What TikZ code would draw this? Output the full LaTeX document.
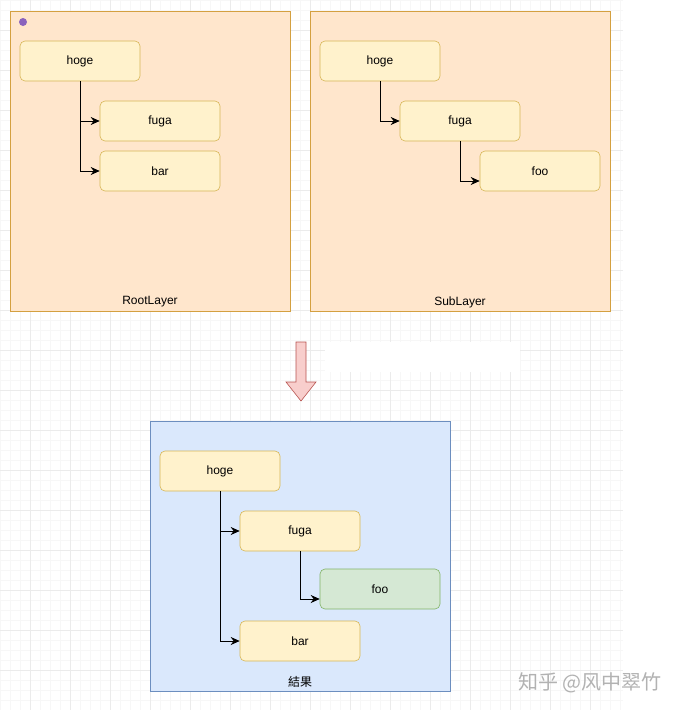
\documentclass[tikz,border=0pt]{standalone}
\usepackage{fontspec}
\setmainfont{Liberation Sans}
\newfontfamily\cjk{Noto Sans CJK SC}
\usetikzlibrary{arrows.meta,positioning}
\definecolor{layerfill}{HTML}{FFE6CC}
\definecolor{layerdraw}{HTML}{D4A040}
\definecolor{itemfill}{HTML}{FFF2CC}
\definecolor{itemdraw}{HTML}{D6B656}
\definecolor{greenfill}{HTML}{D5E8D4}
\definecolor{greendraw}{HTML}{82B366}
\definecolor{bluefill}{HTML}{DAE8FC}
\definecolor{bluedraw}{HTML}{6C8EBF}
\definecolor{redfill}{HTML}{F8CECC}
\definecolor{reddraw}{HTML}{B85450}
\definecolor{dotpurple}{HTML}{8A63BD}
\tikzset{%
	layerbox/.style = {draw=layerdraw, fill=layerfill, line width=0.8pt},
	resultbox/.style= {draw=bluedraw, fill=bluefill, line width=0.8pt},
	item/.style     = {draw=itemdraw, fill=itemfill, rectangle, rounded corners=5pt, minimum width=120pt, minimum height=40pt, text centered, line width=0.6pt},
	itemgreen/.style= {item, draw=greendraw, fill=greenfill},
	arrow/.style    = {line width=0.8pt, -{Stealth[length=9pt,width=8pt]}},
}

\begin{document}
\begin{tikzpicture}[x=1pt, y=-1pt, font=\fontsize{12}{14}\selectfont]
	\useasboundingbox (0,0) rectangle (681,710);
	\fill[white] (0,0) rectangle (681,710);
	
	% grid
	\foreach \x in {0,10,...,620} \draw[black!3, line width=0.4pt] (\x,0) -- (\x,710);
	\foreach \y in {0,10,...,710} \draw[black!3, line width=0.4pt] (0,\y) -- (623,\y);
	\foreach \x in {30,70,...,620} \draw[black!8, line width=0.5pt] (\x,0) -- (\x,710);
	\foreach \y in {30,70,...,710} \draw[black!8, line width=0.5pt] (0,\y) -- (623,\y);
	\fill[white] (325,342) rectangle (520,372);
	
	% RootLayer
	\draw[layerbox] (10,11) rectangle (290,311);
	\fill[dotpurple] (23,22) circle (4pt);
	\node at (150,302) {RootLayer};
	\node[item] (rhoge) at (80,61) {hoge};
	\node[item] (rfuga) at (160,121) {fuga};
	\node[item] (rbar) at (160,171) {bar};
	\draw[arrow] (rhoge.south) |- (rfuga.west);
	\draw[arrow] (rhoge.south) |- (rbar.west);
	
	% SubLayer
	\draw[layerbox] (310,11) rectangle (610,311);
	\node at (460,302) {SubLayer};
	\node[item] (shoge) at (380,61) {hoge};
	\node[item] (sfuga) at (460,121) {fuga};
	\node[item] (sfoo) at (540,171) {foo};
	\draw[arrow] (shoge.south) |- (sfuga.west);
	\draw[arrow] (sfuga.south) |- ([yshift=-10pt]sfoo.west);
	
	% merge arrow
	\draw[draw=reddraw, fill=redfill, line width=0.6pt] (296,342) -- (306,342) -- (306,382) -- (316,382) -- (301,401) -- (286,382) -- (296,382) -- cycle;
	
	% result
	\draw[resultbox] (150,421) rectangle (450,691);
	\node at (300,682) {\cjk 結果};
	\node[item] (hoge) at (220,471) {hoge};
	\node[item] (fuga) at (300,531) {fuga};
	\node[itemgreen] (foo) at (380,589) {foo};
	\node[item] (bar) at (300,641) {bar};
	\draw[arrow] (hoge.south) |- (fuga.west);
	\draw[arrow] (hoge.south) |- (bar.west);
	\draw[arrow] (fuga.south) |- ([yshift=-10pt]foo.west);
	
	\node[black!30, font=\cjk\fontsize{20}{22}\selectfont] at (590,683) {知乎 @风中翠竹};
\end{tikzpicture}
\end{document}
